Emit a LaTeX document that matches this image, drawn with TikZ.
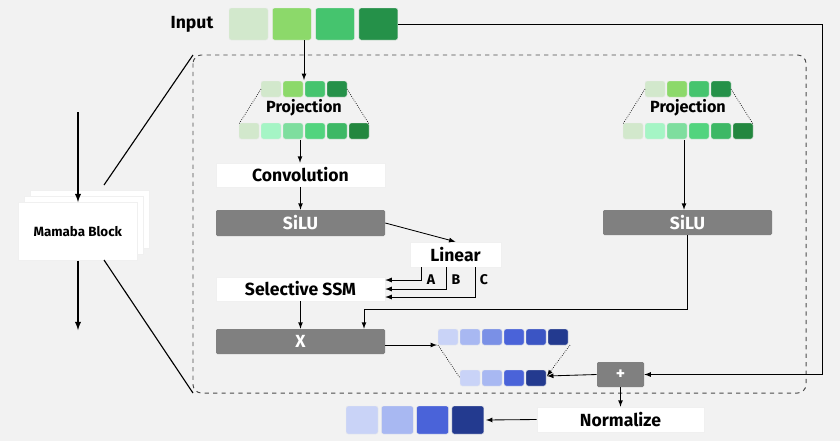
\documentclass[tikz,border=0pt]{standalone}
\usepackage{fontspec}
\setmainfont{Fira Sans}
\begin{document}
\begin{tikzpicture}[x=0.025cm,y=-0.025cm,
  sq/.style={rounded corners=1.5pt,draw=black!8,line width=0.3pt},
  wbox/.style={fill=white,draw=black!6,inner sep=0pt,font=\bfseries\fontsize{12.5}{15}\selectfont},
  gbox/.style={fill=black!50,rounded corners=1pt,inner sep=0pt,text=white,font=\bfseries\fontsize{12.5}{15}\selectfont},
  arr/.style={-latex,line width=0.6pt},
  lab/.style={font=\bfseries\fontsize{10}{12}\selectfont,inner sep=1pt},
  dot/.style={densely dotted,line width=0.5pt}]
\definecolor{g1}{HTML}{D2E8CC}\definecolor{g2}{HTML}{8CD96A}\definecolor{g3}{HTML}{45C46E}\definecolor{g4}{HTML}{259149}
\definecolor{m2}{HTML}{A5F5C5}\definecolor{m3}{HTML}{7EDE9E}\definecolor{m4}{HTML}{52D47E}\definecolor{m5}{HTML}{3DB865}\definecolor{m6}{HTML}{23873F}
\definecolor{b1}{HTML}{C9D3F7}\definecolor{b2}{HTML}{A8B8F2}\definecolor{b3}{HTML}{7A90E6}\definecolor{b4}{HTML}{4A63D9}\definecolor{b5}{HTML}{3B55C4}\definecolor{b6}{HTML}{233A8F}
\fill[black!5] (0,0) rectangle (840,441);
\useasboundingbox (0,0) rectangle (840,441);
% input
\node[font=\bfseries\fontsize{12.5}{15}\selectfont] (inlab) at (192,24) {Input};
\foreach \c [count=\i] in {g1,g2,g3,g4}{
  \path[sq,fill=\c] ({229+43.3*(\i-1)},8) rectangle +(39,32);
  \coordinate (in\i) at ({229+43.3*(\i-1)+19.5},24);}
\coordinate (inR) at (398,24);
\coordinate (inB) at (304,40);
% dashed frame
\draw[dashed,black!70,line width=0.7pt,rounded corners=6pt] (193,55) rectangle (806,393);
% Mamaba block
\foreach \d in {12,6}{\path[fill=white,draw=black!6] (18+\d,202-\d) rectangle +(119,58);}
\node[wbox,minimum width=119*0.025cm,minimum height=58*0.025cm,anchor=north west,font=\bfseries\fontsize{9.5}{11}\selectfont] (mb) at (18,202) {Mamaba Block};
\coordinate (mbt) at (78,112); \coordinate (mbb) at (78,330);
\draw[-latex,line width=1pt] (mbt) -- (mb.north -| mbt);
\draw[-latex,line width=1pt] (mb.south -| mbt) -- (mbb);
\coordinate (ft) at (193,55); \coordinate (fb) at (193,393);
\draw[line width=0.8pt] (104,185) -- (ft);
\draw[line width=0.8pt] (104,260) -- (fb);
% projections
\foreach \ox/\nm in {261/L,645/R}{
  \foreach \c [count=\i] in {g1,g2,g3,g4}{\path[sq,fill=\c] ({\ox+22*(\i-1)},81) rectangle +(20,16);}
  \foreach \c [count=\i] in {g1,m2,m3,m4,m5,m6}{\path[sq,fill=\c] ({\ox-22+22*(\i-1)},123) rectangle +(20,16);}
  \draw[dot] (\ox,89) -- (\ox-22,124);
  \draw[dot] (\ox+86,89) -- (\ox+108,124);
  \node[font=\bfseries\fontsize{11.5}{13}\selectfont,inner sep=0pt] (proj\nm) at (\ox+43,108) {Projection};
  \coordinate (pt\nm) at (\ox+43,80);
  \coordinate (pb\nm) at (\ox+39,140);}
\draw[arr] (inB) -- (ptL);
% boxes
\node[wbox,minimum width=169*0.025cm,minimum height=24*0.025cm] (conv) at (300.5,175) {Convolution};
\node[gbox,minimum width=169*0.025cm,minimum height=26*0.025cm] (silu) at (300.5,223) {SiLU};
\node[wbox,minimum width=91*0.025cm,minimum height=25*0.025cm] (lin) at (455.5,254.5) {Linear};
\node[wbox,minimum width=169*0.025cm,minimum height=24*0.025cm] (ssm) at (300.5,289) {Selective SSM};
\node[gbox,minimum width=169*0.025cm,minimum height=25*0.025cm] (x) at (300.5,341.5) {X};
\node[gbox,minimum width=169*0.025cm,minimum height=25*0.025cm] (silu2) at (687.5,222.5) {SiLU};
\node[gbox,minimum width=47*0.025cm,minimum height=25*0.025cm] (plus) at (620.5,374.5) {+};
\node[wbox,minimum width=167*0.025cm,minimum height=25*0.025cm] (norm) at (620.5,419.5) {Normalize};
\draw[arr] (pbL) -- (conv.north -| pbL);
\draw[arr] (conv) -- (silu);
\draw[arr] (silu.east) -- (lin.north);
\draw[arr] (pbR) -- (silu2.north -| pbR);
% A B C
\draw[arr] (lin.south -| 421,0) |- (ssm.east |- 0,280);
\draw[arr] (lin.south -| 446,0) |- (ssm.east |- 0,289);
\draw[arr] (lin.south -| 475,0) |- (ssm.east |- 0,297);
\node[lab] (la) at (431,280) {A};
\node[lab] (lb) at (456,280) {B};
\node[lab] (lc) at (484,280) {C};
\draw[arr] (ssm) -- (x);
\draw[arr] (silu2.south) |- (364,309) -- (x.north -| 364,0);
% blue
\foreach \c [count=\i] in {b1,b2,b3,b4,b5,b6}{\path[sq,fill=\c] ({438+22*(\i-1)},329) rectangle +(20,16);}
\foreach \c [count=\i] in {b1,b2,b4,b6}{\path[sq,fill=\c] ({460+22*(\i-1)},370) rectangle +(20,16);}
\coordinate (bt) at (437,345); \coordinate (bbr) at (547,376);
\draw[arr] (x.east |- bt) -- (bt);
\draw[dot] (438,345) -- (460,378);
\draw[dot,-latex] (570,345) -- (bbr);
\draw[arr] (plus.west) -- (bbr);
\draw[arr] (inR) -- (822,24) |- (plus.east);
\draw[arr] (plus) -- (norm);
% output
\foreach \c [count=\i] in {b1,b2,b4,b6}{\path[sq,fill=\c] ({346+35.3*(\i-1)},406) rectangle +(32,28);}
\coordinate (outR) at (486,420);
\draw[arr] (norm.west) -- (outR);
\end{tikzpicture}
\end{document}
